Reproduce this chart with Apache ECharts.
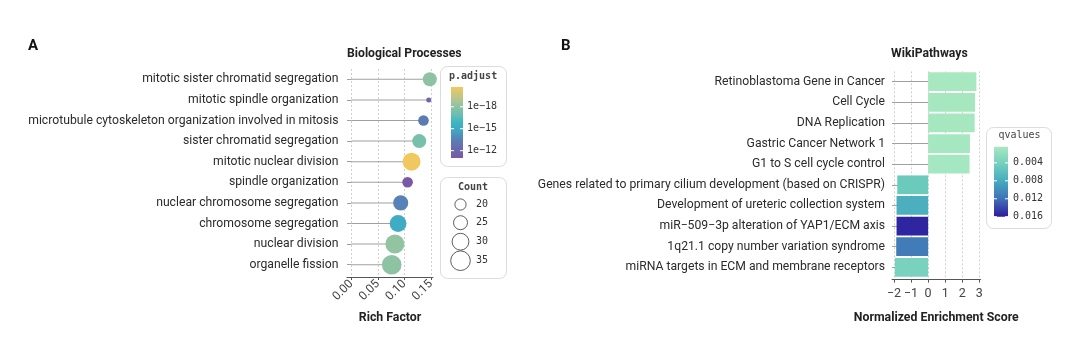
<!DOCTYPE html>
<html><head><meta charset="utf-8">
<script src="https://cdn.jsdelivr.net/npm/echarts@6/dist/echarts.min.js"></script>
<style>html,body{margin:0;padding:0;background:#fff}#c{width:1080px;height:364px}</style>
</head><body><div id="c"></div>
<script>
// ---------- data ----------
const bpTerms = [
  'mitotic sister chromatid segregation',
  'mitotic spindle organization',
  'microtubule cytoskeleton organization involved in mitosis',
  'sister chromatid segregation',
  'mitotic nuclear division',
  'spindle organization',
  'nuclear chromosome segregation',
  'chromosome segregation',
  'nuclear division',
  'organelle fission'
];
const bpRichFactor = [0.148, 0.146, 0.136, 0.128, 0.1135, 0.106, 0.093, 0.088, 0.082, 0.076];
const bpCount = [25, 9, 19, 25, 32, 19, 27, 30, 34, 35];
const bpPadjust = [1e-18, 6e-13, 5e-14, 5e-18, 2.5e-21, 8e-12, 2.5e-14, 6e-16, 6e-19, 1e-18];
const bpXTicks = [0, 0.05, 0.10, 0.15];
const padjTicks = [1e-18, 1e-15, 1e-12];
const padjTickLabels = ['1e\u221218', '1e\u221215', '1e\u221212'];
const countLegend = [20, 25, 30, 35];

const wpTerms = [
  'Retinoblastoma Gene in Cancer',
  'Cell Cycle',
  'DNA Replication',
  'Gastric Cancer Network 1',
  'G1 to S cell cycle control',
  'Genes related to primary cilium development (based on CRISPR)',
  'Development of ureteric collection system',
  'miR\u2212509\u22123p alteration of YAP1/ECM axis',
  '1q21.1 copy number variation syndrome',
  'miRNA targets in ECM and membrane receptors'
];
const wpNES = [2.83, 2.75, 2.73, 2.45, 2.43, -1.81, -1.85, -1.85, -1.87, -1.95];
const wpQvalue = [0.0004, 0.0005, 0.0005, 0.0006, 0.0006, 0.0048, 0.0076, 0.0155, 0.0113, 0.0038];
const wpXTicks = [-2, -1, 0, 1, 2, 3];
const qTicks = [0.004, 0.008, 0.012, 0.016];

// ---------- styles ----------
const FONT = 'Roboto, "Noto Sans", sans-serif';
const MONO = '"DejaVu Sans Mono", monospace';
const padjColors = ['#7a58a4','#6a68ab','#5a7db5','#44a2c2','#3ab7c4','#70bfae','#95c4a0','#c5c683','#f3c85b'];
const padjMin = 11, padjMax = 20.7;
const qColors = ['#a8e8c0','#72cfbd','#45a9c0','#4070b6','#2e1a9e'];
const qMin = 0.0004, qMax = 0.016;
const sizeOf = c => 0.56 * c;

const bpScatter = bpTerms.map((t, i) => [bpRichFactor[i], t, bpCount[i], -Math.log10(bpPadjust[i])]);
const bpStick = bpTerms.map((t, i) => [bpRichFactor[i], t]);
const wpBars = wpTerms.map((t, i) => [wpNES[i], t, wpQvalue[i]]);

// ---------- legends (graphic) ----------
const g = [];
function box(x, y, w, h) {
  g.push({type: 'rect', shape: {x, y, width: w, height: h, r: 7}, style: {fill: '#fff', stroke: '#dcdcdc', lineWidth: 1}, z: 1});
}
function txt(x, y, s, opt) {
  g.push({type: 'text', x, y, style: Object.assign({text: s, fill: '#333', font: '10px ' + MONO, textAlign: 'left', textVerticalAlign: 'middle'}, opt || {}), z: 3});
}
// p.adjust
box(440.5, 66.5, 66, 100);
txt(449, 76.5, 'p.adjust', {font: 'bold 10px ' + MONO, fill: '#444'});
{
  const bx = 451, by = 87, bw = 12, bh = 71;
  const stops = padjColors.map((c, i) => ({offset: 1 - i / (padjColors.length - 1), color: c})).reverse();
  g.push({type: 'rect', shape: {x: bx, y: by, width: bw, height: bh}, style: {fill: {type: 'linear', x: 0, y: 0, x2: 0, y2: 1, colorStops: stops}}, z: 2});
  padjTicks.forEach((p, i) => {
    const v = -Math.log10(p);
    const y = by + (padjMax - v) / (padjMax - padjMin) * bh;
    g.push({type: 'line', shape: {x1: bx, y1: y, x2: bx + 3, y2: y}, style: {stroke: '#fff', lineWidth: 1}, z: 3});
    g.push({type: 'line', shape: {x1: bx + bw - 3, y1: y, x2: bx + bw, y2: y}, style: {stroke: '#fff', lineWidth: 1}, z: 3});
    txt(467, y, padjTickLabels[i]);
  });
}
// Count
box(440.5, 177.5, 66, 101);
txt(473, 187.5, 'Count', {textAlign: 'center', font: 'bold 10px ' + MONO, fill: '#444'});
{
  const ys = [204.5, 222.7, 241.7, 260.7];
  countLegend.forEach((c, i) => {
    g.push({type: 'circle', shape: {cx: 460.5, cy: ys[i], r: sizeOf(c) / 2}, style: {fill: 'none', stroke: '#333', lineWidth: 0.8}, z: 3});
    txt(476, ys[i], String(c));
  });
}
// qvalues
box(986.5, 127.5, 65, 101);
txt(1019.5, 135.5, 'qvalues', {textAlign: 'center', fill: '#444'});
{
  const bx = 994, by = 146.7, bw = 14, bh = 70;
  const stops = qColors.map((c, i) => ({offset: i / (qColors.length - 1), color: c}));
  g.push({type: 'rect', shape: {x: bx, y: by, width: bw, height: bh}, style: {fill: {type: 'linear', x: 0, y: 0, x2: 0, y2: 1, colorStops: stops}}, z: 2});
  qTicks.forEach(v => {
    const y = by + (v - qMin) / (qMax - qMin) * bh;
    g.push({type: 'line', shape: {x1: bx, y1: y, x2: bx + 3, y2: y}, style: {stroke: '#fff', lineWidth: 1}, z: 3});
    g.push({type: 'line', shape: {x1: bx + bw - 3, y1: y, x2: bx + bw, y2: y}, style: {stroke: '#fff', lineWidth: 1}, z: 3});
    txt(1013, y, v.toFixed(3));
  });
}

const labelStyle = {fontFamily: FONT, fontSize: 12.2, color: '#2b2b2b'};
const axisNameStyle = {fontFamily: FONT, fontSize: 12.3, fontWeight: 'bold', color: '#222'};
const gridLine = {show: true, lineStyle: {color: '#cfcfcf', type: [2, 2], width: 1}};

const option = {
  backgroundColor: '#fff',
  animation: false,
  title: [
    {text: 'A', left: 28, top: 38, padding: 0, textStyle: {fontFamily: FONT, fontSize: 15, fontWeight: 'bold', color: '#111', lineHeight: 16}},
    {text: 'B', left: 561, top: 38, padding: 0, textStyle: {fontFamily: FONT, fontSize: 15, fontWeight: 'bold', color: '#111', lineHeight: 16}},
    {text: 'Biological Processes', left: 347, top: 47, padding: 0, textStyle: {fontFamily: FONT, fontSize: 12.2, fontWeight: 'bold', color: '#222', lineHeight: 14}},
    {text: 'WikiPathways', left: 891, top: 47, padding: 0, textStyle: {fontFamily: FONT, fontSize: 12.2, fontWeight: 'bold', color: '#222', lineHeight: 14}}
  ],
  grid: [
    {left: 347, top: 69, width: 86, height: 206},
    {left: 892, top: 71.4, width: 88.5, height: 206.2}
  ],
  xAxis: [
    {
      gridIndex: 0, type: 'value', min: -0.0085, max: 0.154, offset: 2,
      name: 'Rich Factor', nameLocation: 'middle', nameGap: 35, nameTextStyle: axisNameStyle,
      axisLine: {show: true, onZero: false, lineStyle: {color: '#555', width: 1}},
      axisTick: {show: true, length: 3, lineStyle: {color: '#555'}, customValues: bpXTicks},
      axisLabel: {customValues: bpXTicks, rotate: 45, margin: 5, formatter: v => v.toFixed(2), fontFamily: FONT, fontSize: 12, color: '#444'},
      splitLine: gridLine
    },
    {
      gridIndex: 1, type: 'value', min: -2.117, max: 3.071, offset: 2,
      name: 'Normalized Enrichment Score', nameLocation: 'middle', nameGap: 32, nameTextStyle: axisNameStyle,
      axisLine: {show: true, onZero: false, lineStyle: {color: '#555', width: 1}},
      axisTick: {show: true, length: 3, lineStyle: {color: '#555'}, customValues: wpXTicks},
      axisLabel: {customValues: wpXTicks, margin: 8, formatter: v => (v < 0 ? '\u2212' + Math.abs(v) : String(v)), fontFamily: FONT, fontSize: 12.5, color: '#444'},
      splitLine: gridLine
    }
  ],
  yAxis: [
    {
      gridIndex: 0, type: 'category', data: bpTerms, inverse: true,
      axisLine: {show: false, onZero: false},
      axisTick: {show: true, inside: true, length: 4.5, alignWithLabel: true, lineStyle: {color: '#a0a0a0'}},
      axisLabel: Object.assign({margin: 8.5}, labelStyle),
      splitLine: {show: false}
    },
    {
      gridIndex: 1, type: 'category', data: wpTerms, inverse: true,
      axisLine: {show: false, onZero: false},
      axisTick: {show: true, inside: true, length: 36.3, alignWithLabel: true, lineStyle: {color: '#a0a0a0'}},
      axisLabel: Object.assign({margin: 7}, labelStyle),
      splitLine: {show: false}
    }
  ],
  visualMap: [
    {type: 'continuous', show: false, seriesIndex: 1, dimension: 3, min: padjMin, max: padjMax, inRange: {color: padjColors}},
    {type: 'continuous', show: false, seriesIndex: 2, dimension: 2, min: qMin, max: qMax, inRange: {color: qColors}}
  ],
  series: [
    {
      type: 'bar', xAxisIndex: 0, yAxisIndex: 0, data: bpStick, encode: {x: 0, y: 1},
      barWidth: 1, itemStyle: {color: '#a0a0a0'}, silent: true, z: 1
    },
    {
      type: 'scatter', xAxisIndex: 0, yAxisIndex: 0, data: bpScatter, encode: {x: 0, y: 1},
      symbolSize: v => sizeOf(v[2]), itemStyle: {opacity: 1}, z: 3
    },
    {
      type: 'bar', xAxisIndex: 1, yAxisIndex: 1, data: wpBars, encode: {x: 0, y: 1},
      barCategoryGap: '9%', z: 2
    }
  ],
  graphic: g
};

const chart = echarts.init(document.getElementById('c'), null, {renderer: 'canvas', width: 1080, height: 364});
chart.setOption(option);
</script>
</body></html>
